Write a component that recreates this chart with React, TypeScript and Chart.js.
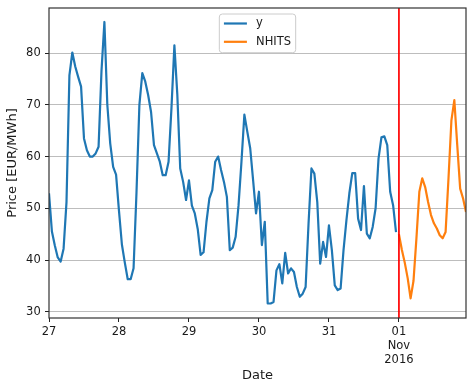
import React, { useEffect, useRef } from 'react';
import { Chart, registerables } from 'chart.js';

Chart.register(...registerables);

// ---- data (hourly, starting 2016-10-27 00:00) ----
const DAY_TICK_LABELS: (string | string[])[] = ['27', '28', '29', '30', '31', ['01', 'Nov', '2016']];
const DAY_TICK_HOURS = [0, 24, 48, 72, 96, 120];
const CUTOFF_HOUR = 120; // forecast start (2016-11-01 00:00)
const LAST_HOUR = 143;

const Y_OCT27 = [52.9, 45.5, 42.8, 40.5, 39.7, 42.2, 51.2, 75.7, 80.1, 77.4, 75.4, 73.5, 63.5, 61.2, 60.0, 60.0, 60.6, 61.9, 76.5, 86.0, 70.0, 62.5, 58.0, 56.5];
const Y_OCT28 = [49.5, 43.0, 39.5, 36.3, 36.3, 38.4, 53.0, 70.0, 76.1, 74.5, 71.9, 68.6, 62.2, 60.6, 59.0, 56.4, 56.4, 59.0, 69.4, 81.5, 72.0, 57.7, 55.1, 51.6];
const Y_OCT29 = [55.4, 50.5, 49.0, 46.0, 41.0, 41.5, 47.4, 51.9, 53.5, 59.0, 60.0, 57.4, 55.1, 52.2, 41.9, 42.4, 44.5, 50.6, 59.0, 68.1, 64.8, 61.6, 55.4, 49.0];
const Y_OCT30 = [53.2, 42.9, 47.4, 31.6, 31.6, 31.9, 38.0, 39.2, 35.5, 41.4, 37.4, 38.4, 37.7, 34.8, 32.9, 33.5, 34.8, 47.0, 57.7, 56.7, 51.2, 39.3, 43.5, 40.6];
const Y_OCT31 = [46.7, 41.9, 35.1, 34.2, 34.5, 41.9, 47.7, 52.9, 56.8, 56.8, 48.0, 45.8, 54.3, 45.1, 44.2, 46.4, 50.0, 59.6, 63.7, 63.9, 62.2, 53.2, 50.6, 45.4];
const Y_VALUES = [...Y_OCT27, ...Y_OCT28, ...Y_OCT29, ...Y_OCT30, ...Y_OCT31];

const NHITS_NOV01 = [45.0, 42.0, 39.5, 36.5, 32.6, 36.0, 44.2, 53.2, 55.8, 54.1, 51.2, 48.7, 47.1, 46.1, 44.8, 44.2, 45.4, 55.8, 67.0, 70.9, 62.2, 53.8, 51.9, 49.3];

const Y_TICKS = [30, 40, 50, 60, 70, 80];
const Y_MIN = 28.8;
const Y_MAX = 88.7;

const FONT = '"DejaVu Sans", "Liberation Sans", sans-serif';
const TEXT = '#1a1a1a';

function roundRectPath(ctx: CanvasRenderingContext2D, x: number, y: number, w: number, h: number, r: number) {
  ctx.beginPath();
  ctx.moveTo(x + r, y);
  ctx.lineTo(x + w - r, y);
  ctx.arcTo(x + w, y, x + w, y + r, r);
  ctx.lineTo(x + w, y + h - r);
  ctx.arcTo(x + w, y + h, x + w - r, y + h, r);
  ctx.lineTo(x + r, y + h);
  ctx.arcTo(x, y + h, x, y + h - r, r);
  ctx.lineTo(x, y + r);
  ctx.arcTo(x, y, x + r, y, r);
  ctx.closePath();
}

const decorPlugin = {
  id: 'decor',
  afterDatasetsDraw(chart: any) {
    const { ctx, chartArea: a, scales } = chart;
    ctx.save();
    // forecast cutoff line
    const xc = scales.x.getPixelForValue(CUTOFF_HOUR);
    ctx.strokeStyle = '#ff0000';
    ctx.lineWidth = 1.7;
    ctx.beginPath();
    ctx.moveTo(xc, a.top);
    ctx.lineTo(xc, a.bottom);
    ctx.stroke();

    // frame (spines)
    ctx.strokeStyle = '#333333';
    ctx.lineWidth = 1.2;
    ctx.strokeRect(a.left, a.top, a.right - a.left, a.bottom - a.top);

    // legend (upper center)
    const fs = 11.5;
    ctx.font = `${fs}px ${FONT}`;
    const items = chart.data.datasets.map((d: any) => ({ label: d.label, color: d.borderColor }));
    const textW = Math.max(...items.map((i: any) => ctx.measureText(i.label).width));
    const pad = 0.4 * fs;
    const handle = 2 * fs;
    const hpad = 0.8 * fs;
    const w = 2 * pad + handle + hpad + textW;
    const h = 38.7;
    const cx = (a.left + a.right) / 2;
    const bx = cx - w / 2;
    const by = a.top + 6;
    roundRectPath(ctx, bx, by, w, h, 3);
    ctx.fillStyle = 'rgba(255,255,255,0.8)';
    ctx.fill();
    ctx.strokeStyle = '#cccccc';
    ctx.lineWidth = 1;
    ctx.stroke();
    const rowY = [by + 9.5, by + 27.8];
    items.forEach((it: any, i: number) => {
      const y = rowY[i];
      ctx.strokeStyle = it.color;
      ctx.lineWidth = 2.2;
      ctx.beginPath();
      ctx.moveTo(bx + pad, y);
      ctx.lineTo(bx + pad + handle, y);
      ctx.stroke();
      ctx.fillStyle = TEXT;
      ctx.textAlign = 'left';
      ctx.textBaseline = 'middle';
      ctx.fillText(it.label, bx + pad + handle + hpad, y);
    });
    ctx.restore();
  },
};

export default function App() {
  const ref = useRef<HTMLCanvasElement | null>(null);

  useEffect(() => {
    if (!ref.current) return;
    const chart = new Chart(ref.current, {
      type: 'line',
      data: {
        datasets: [
          {
            label: 'y',
            data: Y_VALUES.map((v, i) => ({ x: i, y: v })),
            borderColor: '#1f77b4',
            borderWidth: 2.2,
            pointRadius: 0,
            borderJoinStyle: 'round',
            tension: 0,
          },
          {
            label: 'NHITS',
            data: NHITS_NOV01.map((v, i) => ({ x: CUTOFF_HOUR + i, y: v })),
            borderColor: '#ff7f0e',
            borderWidth: 2.2,
            pointRadius: 0,
            borderJoinStyle: 'round',
            tension: 0,
          },
        ],
      },
      options: {
        animation: false,
        responsive: false,
        events: [],
        layout: { padding: { left: 0, top: 8, right: 8, bottom: 0 } },
        plugins: { legend: { display: false }, tooltip: { enabled: false } },
        scales: {
          x: {
            type: 'linear',
            min: 0,
            max: LAST_HOUR,
            afterFit(s: any) {
              s.height = 73;
              s.paddingLeft = 0;
              s.paddingRight = 0;
            },
            afterBuildTicks(s: any) {
              s.ticks = DAY_TICK_HOURS.map((v) => ({ value: v }));
            },
            ticks: {
              autoSkip: false,
              maxRotation: 0,
              minRotation: 0,
              padding: 3,
              color: TEXT,
              font: { family: FONT, size: 11.5, lineHeight: 14 / 11.5 },
              callback: (v: any) => DAY_TICK_LABELS[DAY_TICK_HOURS.indexOf(Number(v))],
            },
            grid: { drawOnChartArea: false, drawTicks: true, tickLength: 4, tickColor: '#222', tickWidth: 1 },
            border: { display: false },
            title: {
              display: true,
              text: 'Date',
              color: TEXT,
              font: { family: FONT, size: 13 },
              padding: { top: 0, bottom: 7.7 },
            },
          },
          y: {
            type: 'linear',
            min: Y_MIN,
            max: Y_MAX,
            afterFit(s: any) {
              s.width = 49;
              s.paddingTop = 0;
              s.paddingBottom = 0;
            },
            afterBuildTicks(s: any) {
              s.ticks = Y_TICKS.map((v) => ({ value: v }));
            },
            ticks: {
              padding: 4.3,
              color: TEXT,
              font: { family: FONT, size: 11.5 },
              callback: (v: any) => String(v),
            },
            grid: { color: '#bdbdbd', lineWidth: 1, drawTicks: true, tickLength: 4, tickColor: '#222', tickWidth: 1 },
            border: { display: false },
            title: {
              display: true,
              text: 'Price [EUR/MWh]',
              color: TEXT,
              font: { family: FONT, size: 13 },
              padding: { top: 5.3, bottom: 0 },
            },
          },
        },
      } as any,
      plugins: [decorPlugin],
    });
    return () => chart.destroy();
  }, []);

  return (
    <div style={{ position: 'fixed', left: 0, top: 0, width: 474, height: 391, background: '#fff' }}>
      <canvas ref={ref} width={474} height={391} style={{ width: 474, height: 391, display: 'block' }} />
    </div>
  );
}
